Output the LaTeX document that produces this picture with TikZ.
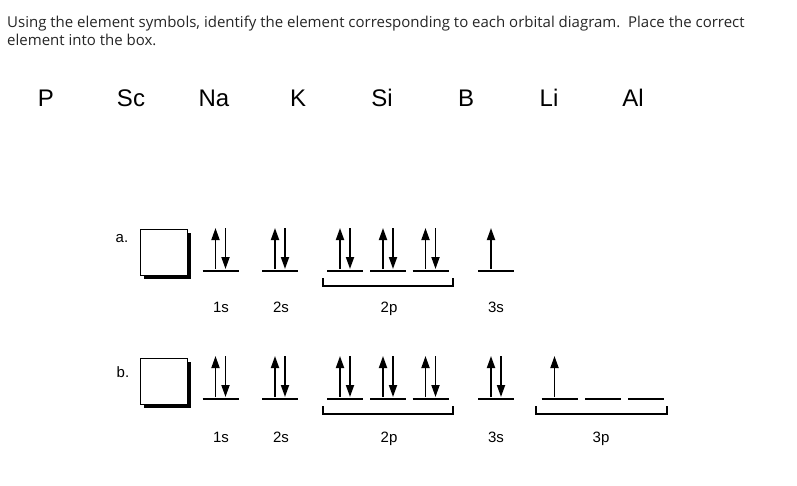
\documentclass[tikz,border=0pt]{standalone}
\usepackage{fontspec}
\setmainfont{Liberation Sans}
\newfontfamily\instrfont{Open Sans}
\usetikzlibrary{arrows.meta}
\begin{document}
\begin{tikzpicture}[x=1pt,y=-1pt,
  instr/.style={font=\instrfont\fontsize{15}{18}\selectfont, anchor=base west, inner sep=0pt, color=black!85},
  sym/.style={font=\fontsize{24}{28}\selectfont, anchor=base, inner sep=0pt},
  lab/.style={font=\fontsize{15}{18}\selectfont, anchor=base, inner sep=0pt},
  level/.style={line width=1.2pt},
  spin/.style={line width=1.8pt, -{Triangle[width=8pt,length=12pt]}},
  bracket/.style={line width=1.2pt},
  answerbox/.style={draw=black, line width=1.3pt, fill=white, minimum width=47pt, minimum height=46pt, inner sep=0pt, anchor=north west},
  boxshadow/.style={fill=black, minimum width=47pt, minimum height=46pt, inner sep=0pt, anchor=north west}
  ]
\useasboundingbox (0,0) rectangle (797,485);
\fill[white] (0,0) rectangle (797,485);
% instructions
\node[instr] (t1) at (7,27) {Using the element symbols, identify the element corresponding to each orbital diagram.\ \ Place the correct};
\node[instr] (t2) at (7,45) {element into the box.};
% element symbols
\foreach \s/\x [count=\i] in {P/46,Sc/131,Na/214,K/298,Si/382,B/466,Li/549,Al/633}
  \node[sym] (el\i) at (\x,106) {\s};
% helper macros
\newcommand\mylevel[3]{% name, center x, y
  \coordinate (#1) at (#2,#3);
  \draw[level] ([xshift=-18pt]#1) -- ([xshift=18pt]#1);}
\newcommand\mypair[1]{%
  \draw[spin] ([xshift=-5pt,yshift=2pt]#1) -- ([xshift=-5pt,yshift=43pt]#1);
  \draw[spin] ([xshift=5pt,yshift=43pt]#1) -- ([xshift=5pt,yshift=2pt]#1);}
\newcommand\myup[1]{%
  \draw[spin] ([xshift=-5pt,yshift=2pt]#1) -- ([xshift=-5pt,yshift=43pt]#1);}
% ---------- row a ----------
\node[lab] (la) at (122,242) {a.};
\node[boxshadow] (sha) at (144,233) {};
\node[answerbox] (boxa) at (140,229) {};
\foreach \n/\c in {a1s/220.5,a2s/280,a2px/345,a2py/388,a2pz/430.5}{
  \mylevel{\n}{\c}{271}
  \mypair{\n}
}
\mylevel{a3s}{496}{271}
\myup{a3s}
\coordinate (ab1) at (323,278);
\coordinate (ab2) at (453,278);
\draw[bracket] (ab1) -- ++(0,8) -| (ab2);
\node[lab] (a1sl) at (221,312) {1s};
\node[lab] (a2sl) at (281,312) {2s};
\node[lab] (a2pl) at (389,312) {2p};
\node[lab] (a3sl) at (496,312) {3s};
% ---------- row b ----------
\node[lab] (lb) at (123,377) {b.};
\node[boxshadow] (shb) at (144,362) {};
\node[answerbox] (boxb) at (140,358) {};
\foreach \n/\c in {b1s/220.5,b2s/280,b2px/345,b2py/388,b2pz/430.5,b3s/496}{
  \mylevel{\n}{\c}{399}
  \mypair{\n}
}
\mylevel{b3px}{559.5}{399}
\myup{b3px}
\mylevel{b3py}{603}{399}
\mylevel{b3pz}{646}{399}
\coordinate (bb1) at (323,406);
\coordinate (bb2) at (453,406);
\draw[bracket] (bb1) -- ++(0,8) -| (bb2);
\coordinate (bc1) at (536,406);
\coordinate (bc2) at (667,406);
\draw[bracket] (bc1) -- ++(0,8) -| (bc2);
\node[lab] (b1sl) at (221,442) {1s};
\node[lab] (b2sl) at (281,442) {2s};
\node[lab] (b2pl) at (389,442) {2p};
\node[lab] (b3sl) at (496,442) {3s};
\node[lab] (b3pl) at (601,442) {3p};
\end{tikzpicture}
\end{document}
